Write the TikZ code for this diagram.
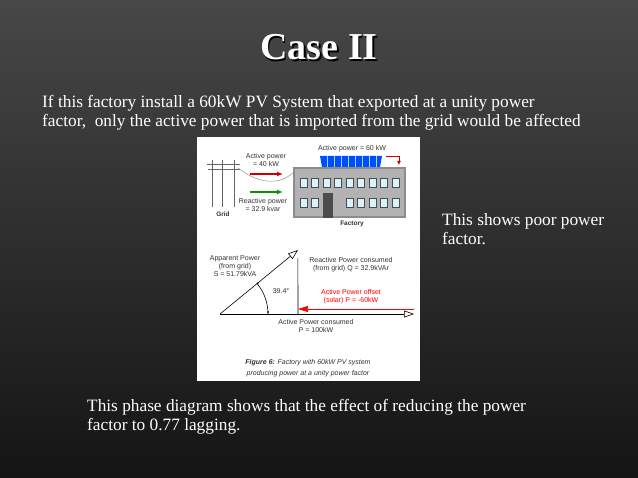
\documentclass[tikz,border=0pt]{standalone}
\usepackage{fontspec}
\setmainfont{Liberation Serif}
\newfontfamily\sansf{Liberation Sans}
\usetikzlibrary{arrows.meta}
\begin{document}
\begin{tikzpicture}[x=1pt,y=-1pt,
  slide/.style={text=white,font=\fontsize{17.3}{19}\selectfont,anchor=west,align=left,inner sep=0pt},
  lab/.style={font=\sansf\fontsize{7}{8}\selectfont,text=black!80,align=center},
  win/.style={draw=black!70,fill=cyan!15,line width=0.5pt},
  openarr/.style={-{Triangle[open,length=10pt,width=7pt]},line width=0.6pt}]
\shade[top color=black!72,bottom color=black!92] (0,0) rectangle (638,478);
\useasboundingbox (0,0) rectangle (638,478);
\node (shadow) [text=black,font=\bfseries\fontsize{38}{40}\selectfont] at (320.5,49.5) {Case II};
\node (title) [text=white,font=\bfseries\fontsize{38}{40}\selectfont] at (319,47) {Case II};
\node (p1) [slide] at (42,112.5) {If this factory install a 60kW PV System that exported at a unity power\\factor,\ \ only the active power that is imported from the grid would be affected};
\node (p2) [slide] at (442,229) {This shows poor power\\factor.};
\node (p3) [slide] at (87,416.5) {This phase diagram shows that the effect of reducing the power\\factor to 0.77 lagging.};
% figure
\fill[white] (197,137) rectangle (420,381);
% grid poles
\foreach \x in {212,222,234}{\draw[black!60,line width=0.8pt] (\x,160) -- (\x,207);}
\draw[black!60,line width=0.8pt] (207,164) -- (240,164) (208,169) -- (240,169);
\draw[black!50] (238,168) .. controls (260,185) and (280,185) .. (294,172);
\node (grid) [lab,font=\sansf\bfseries\fontsize{6.5}{7}\selectfont] at (223,214) {Grid};
\node (ap) [lab] at (266,160) {Active power\\= 40 kW};
\draw[red!80!black,-{Latex[length=6pt,width=5pt]},line width=1.2pt] (250,174) -- (283,174);
\draw[green!60!black,-{Latex[length=6pt,width=5pt]},line width=1.2pt] (250,192) -- (283,192);
\node (rp) [lab] at (263,205) {Reactive power\\= 32.9 kvar};
% factory
\fill[black!45] (293,167) rectangle (406,218);
\fill[black!30] (295,169) rectangle (404,216);
\foreach \i in {0,...,8}{\draw[win] (300+\i*11.5,178) rectangle (307+\i*11.5,187);}
\foreach \i in {0,1,4,5,6,7,8}{\draw[win] (300+\i*11.5,198) rectangle (307+\i*11.5,207);}
\fill[black!70] (323,193) rectangle (333,218);
\fill[blue!70!cyan] (320,156) -- (382,156) -- (380,167) -- (322,167) -- cycle;
\foreach \x in {327,334,341,348,355,362,369,376}{\draw[cyan!40,line width=0.3pt] (\x,156) -- (\x,167);}
\draw[red!80!black,-{Latex[length=4pt,width=4pt]},line width=1pt] (386,157) -- (399,157) -- (399,165);
\node (fac) [lab,font=\sansf\bfseries\fontsize{6.5}{7}\selectfont] at (352,224) {Factory};
\node (apv) [lab] at (352,149) {Active power = 60 kW};
% phasor
\coordinate (o) at (220,314);
\coordinate (top) at (298,250);
\coordinate (base) at (298,314);
\coordinate (xend) at (414,314);
\coordinate (rstart) at (414,309);
\coordinate (rend) at (298,309);
\draw[openarr] (o) -- (xend);
\draw[openarr] (o) -- (top);
\draw[line width=0.6pt] (base) -- (297.9,258);
\draw[red,line width=0.6pt,-{Triangle[length=10pt,width=6pt]}] (rstart) -- (rend);
\draw[line width=0.6pt] (268,314) arc[start angle=0,end angle=-39.4,radius=48];
\fill (268,312) circle (1pt);
\fill (257.5,283.5) circle (1pt);
\node (s) [lab] at (235,266) {Apparent Power\\(from grid)\\S = 51.79kVA};
\node (q) [lab] at (351,265) {Reactive Power consumed\\(from grid) Q = 32.9kVAr};
\node (ang) [lab] at (281,291) {39.4°};
\node (off) [lab,text=red] at (351,297) {Active Power offset\\(solar) P = -60kW};
\node (pc) [lab] at (316,326) {Active Power consumed\\P = 100kW};
\node (cap) [lab,font=\sansf\itshape\fontsize{7}{11}\selectfont] at (308,368) {\textbf{Figure 6:} Factory with 60kW PV system\\producing power at a unity power factor};
\end{tikzpicture}
\end{document}
